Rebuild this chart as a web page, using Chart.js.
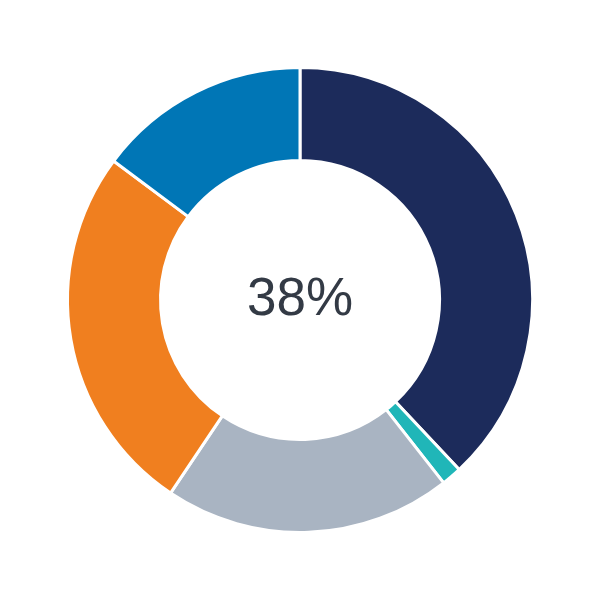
<!DOCTYPE html>
<html>
<head>
<meta charset="utf-8">
<script src="https://cdn.jsdelivr.net/npm/chart.js@4"></script>
<style>
    html, body { margin: 0; padding: 0; background: #fff; }
    #wrap { width: 600px; height: 600px; }
</style>
</head>
<body>
<div id="wrap"><canvas id="donutCanvas" width="600" height="600"></canvas></div>
<script>
// values, clockwise from 12 o'clock
let labels = ['A', 'B', 'C', 'D', 'E'];
let values = [38, 1.4, 20, 25.8, 14.8];
let colors = ['#1c2b5b', '#20b6b8', '#a9b4c2', '#f07f1f', '#0076b6'];
let centerLabel = '38%';

let centerText = {
    id: 'centerText',
    afterDraw: function (chart) {
        let ctx = chart.ctx;
        let meta = chart.getDatasetMeta(0).data[0];
        ctx.save();
        ctx.font = '53px "Liberation Sans", Arial, sans-serif';
        ctx.fillStyle = '#333a45';
        ctx.textAlign = 'center';
        ctx.textBaseline = 'middle';
        ctx.fillText(centerLabel, meta.x, meta.y);
        ctx.restore();
    }
};

window.onload = function () {
    let ctx = document.getElementById('donutCanvas').getContext('2d');
    window.donut = new Chart(ctx, {
        type: 'doughnut',
        data: {
            labels: labels,
            datasets: [{
                data: values,
                backgroundColor: colors,
                borderColor: '#ffffff',
                borderWidth: 3
            }]
        },
        options: {
            responsive: false,
            animation: false,
            cutout: '60%',
            layout: { padding: 66 },
            plugins: {
                legend: { display: false },
                tooltip: { enabled: false }
            }
        },
        plugins: [centerText]
    });
};
</script>
</body>
</html>
